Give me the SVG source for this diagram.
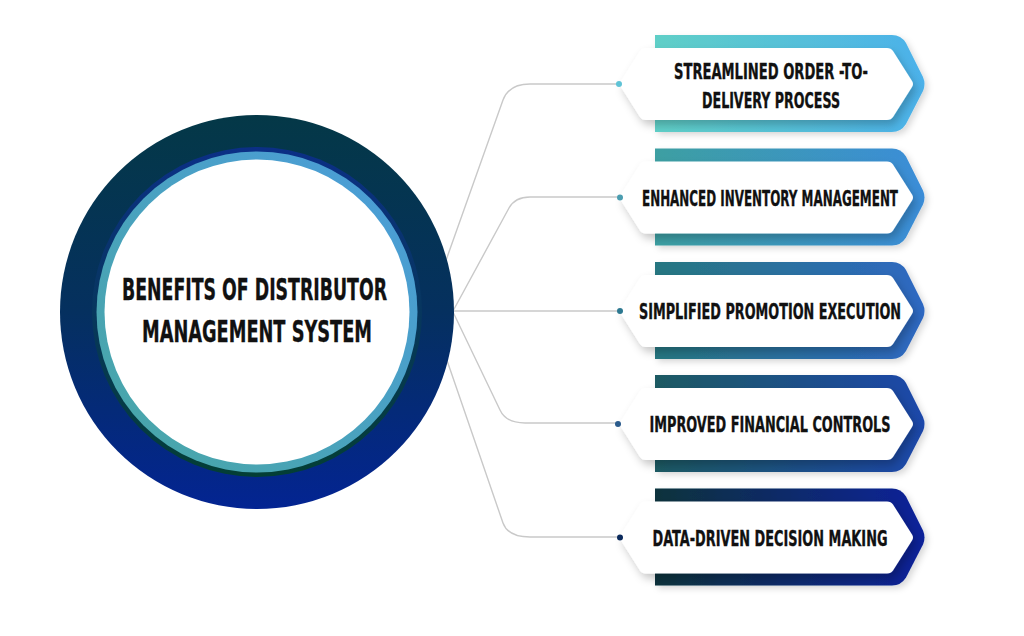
<svg xmlns="http://www.w3.org/2000/svg" width="1024" height="636" viewBox="0 0 1024 636">
<defs>
<style>
.t{font-family:"DejaVu Sans Condensed","Liberation Sans Narrow","Liberation Sans",sans-serif;font-weight:bold;fill:#111;stroke:#111;stroke-width:0.35;}
.bt{font-size:21.5px;}
.ct{font-size:30.5px;}
.conn{fill:none;stroke:#c9c9c9;stroke-width:1.4;}
.white{fill:#ffffff;}
</style>
<filter id="sh" x="-10%" y="-20%" width="125%" height="150%">
<feDropShadow dx="3" dy="5" stdDeviation="4" flood-color="#000" flood-opacity="0.22"/>
</filter>
<filter id="sh2" x="-10%" y="-20%" width="125%" height="150%">
<feDropShadow dx="3" dy="3" stdDeviation="3" flood-color="#000" flood-opacity="0.15"/>
</filter>
<linearGradient id="outer" x1="0" y1="0" x2="0" y2="1">
<stop offset="0" stop-color="#043847"/>
<stop offset="0.5" stop-color="#05305f"/>
<stop offset="1" stop-color="#032492"/>
</linearGradient>
<linearGradient id="dark" x1="0" y1="0" x2="0" y2="1">
<stop offset="0" stop-color="#0b2f86"/>
<stop offset="1" stop-color="#033e35"/>
</linearGradient>
<linearGradient id="light" x1="1" y1="0" x2="0" y2="1">
<stop offset="0" stop-color="#4b9cdc"/>
<stop offset="1" stop-color="#48a7a4"/>
</linearGradient>
<linearGradient id="g1" x1="0" y1="0" x2="1" y2="0"><stop offset="0" stop-color="#5fcfc7"/><stop offset="1" stop-color="#4cb1ea"/></linearGradient>
<linearGradient id="g2" x1="0" y1="0" x2="1" y2="0"><stop offset="0" stop-color="#3c9fa2"/><stop offset="1" stop-color="#3b8dd8"/></linearGradient>
<linearGradient id="g3" x1="0" y1="0" x2="1" y2="0"><stop offset="0" stop-color="#277680"/><stop offset="1" stop-color="#2e68c2"/></linearGradient>
<linearGradient id="g4" x1="0" y1="0" x2="1" y2="0"><stop offset="0" stop-color="#1e5a62"/><stop offset="1" stop-color="#1d47aa"/></linearGradient>
<linearGradient id="g5" x1="0" y1="0" x2="1" y2="0"><stop offset="0" stop-color="#07323c"/><stop offset="1" stop-color="#0a229a"/></linearGradient>
<path id="back" d="M655,-49 H892 Q901,-49 906,-41 L923,-7 Q926,0 923,7 L906,40 Q901,48 892,48 H655 Z"/>
<path id="front" d="M646,-36 H887 Q891,-36 893,-33 L912,-3 Q914,0 912,3 L893,33 Q891,36 887,36 H646 Q642,36 640,33 L621,3 Q619,0 621,-3 L640,-33 Q642,-36 646,-36 Z"/>
</defs>
<rect width="1024" height="636" fill="#ffffff"/>

<g id="connectors">
<path class="conn" d="M428,311 L503,100 Q509,84 530,84 H617"/>
<path class="conn" d="M453,311 L509,208 Q515,197 530,197 H617"/>
<path class="conn" d="M453,311 H617"/>
<path class="conn" d="M453,312 L500,410 Q506,423 525,423 H617"/>
<path class="conn" d="M430,311 L503,523 Q508,537 530,537 H617"/>
</g>

<g id="center">
<circle cx="257" cy="312" r="197" fill="url(#outer)"/>
<circle cx="257" cy="312" r="165" fill="url(#dark)"/>
<circle cx="257" cy="312" r="160.5" fill="url(#light)"/>
<circle cx="257" cy="312" r="152.5" fill="#ffffff"/>
<text class="t ct" x="254.5" y="300" text-anchor="middle" textLength="265" lengthAdjust="spacingAndGlyphs">BENEFITS OF DISTRIBUTOR</text>
<text class="t ct" x="257" y="342" text-anchor="middle" textLength="230" lengthAdjust="spacingAndGlyphs">MANAGEMENT SYSTEM</text>
</g>

<g id="b1" transform="translate(0,84)">
<use href="#back" fill="url(#g1)" filter="url(#sh2)"/>
<use href="#front" class="white" filter="url(#sh)"/>
<circle cx="619" cy="0" r="3" fill="#5fc3d6"/>
<text class="t bt" x="771" y="-5" text-anchor="middle" textLength="194" lengthAdjust="spacingAndGlyphs">STREAMLINED ORDER -TO-</text>
<text class="t bt" x="771" y="24" text-anchor="middle" textLength="138" lengthAdjust="spacingAndGlyphs">DELIVERY PROCESS</text>
</g>

<g id="b2" transform="translate(0,197.5)">
<use href="#back" fill="url(#g2)" filter="url(#sh2)"/>
<use href="#front" class="white" filter="url(#sh)"/>
<circle cx="620" cy="0" r="3" fill="#4b9db0"/>
<text class="t bt" x="770" y="8" text-anchor="middle" textLength="256" lengthAdjust="spacingAndGlyphs">ENHANCED INVENTORY MANAGEMENT</text>
</g>

<g id="b3" transform="translate(0,311)">
<use href="#back" fill="url(#g3)" filter="url(#sh2)"/>
<use href="#front" class="white" filter="url(#sh)"/>
<circle cx="620" cy="0" r="3" fill="#2c7890"/>
<text class="t bt" x="770" y="8" text-anchor="middle" textLength="262" lengthAdjust="spacingAndGlyphs">SIMPLIFIED PROMOTION EXECUTION</text>
</g>

<g id="b4" transform="translate(0,424)">
<use href="#back" fill="url(#g4)" filter="url(#sh2)"/>
<use href="#front" class="white" filter="url(#sh)"/>
<circle cx="618" cy="0" r="3" fill="#2a5b8c"/>
<text class="t bt" x="770" y="8" text-anchor="middle" textLength="241" lengthAdjust="spacingAndGlyphs">IMPROVED FINANCIAL CONTROLS</text>
</g>

<g id="b5" transform="translate(0,537.5)">
<use href="#back" fill="url(#g5)" filter="url(#sh2)"/>
<use href="#front" class="white" filter="url(#sh)"/>
<circle cx="620" cy="0" r="3" fill="#0b2a5c"/>
<text class="t bt" x="770" y="8" text-anchor="middle" textLength="235" lengthAdjust="spacingAndGlyphs">DATA-DRIVEN DECISION MAKING</text>
</g>
</svg>
